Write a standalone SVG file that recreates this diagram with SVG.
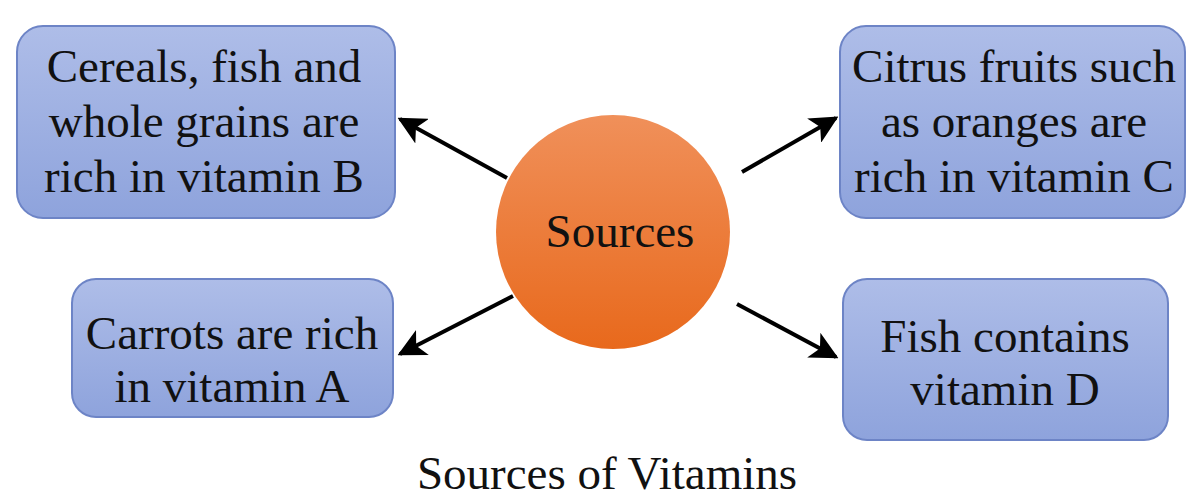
<svg xmlns="http://www.w3.org/2000/svg" width="1200" height="502" viewBox="0 0 1200 502">
<defs>
<linearGradient id="bg" x1="0" y1="0" x2="0" y2="1"><stop offset="0" stop-color="#AEBDE8"/><stop offset="1" stop-color="#8EA3DC"/></linearGradient>
<linearGradient id="og" x1="0" y1="0" x2="0" y2="1"><stop offset="0" stop-color="#F0905A"/><stop offset="1" stop-color="#E8691C"/></linearGradient>
<marker id="ah" viewBox="0 0 10 10" refX="9" refY="5" markerWidth="7" markerHeight="7" orient="auto"><path d="M0,0 L10,5 L0,10 L2.5,5 z" fill="#000"/></marker>
</defs>
<style>
.box{fill:url(#bg);stroke:#6D84C6;stroke-width:2}
text{font-family:"Liberation Serif","DejaVu Serif",serif;font-size:47px;fill:#111;text-anchor:middle}
.c line{stroke:#000;stroke-width:4;marker-end:url(#ah)}
</style>
<rect width="1200" height="502" fill="#fff"/>
<g class="c">
<line x1="507" y1="178" x2="400" y2="119"/>
<line x1="742" y1="172" x2="836" y2="118"/>
<line x1="513" y1="296" x2="400" y2="354"/>
<line x1="737" y1="304" x2="836" y2="357"/>
</g>
<g id="sources"><circle cx="613" cy="232" r="117" fill="url(#og)"/><text x="620" y="247">Sources</text></g>
<g id="vitB"><rect class="box" x="17" y="26" width="378" height="192" rx="26"/><text x="204" y="82">Cereals, fish and</text><text x="204" y="137">whole grains are</text><text x="204" y="192">rich in vitamin B</text></g>
<g id="vitC"><rect class="box" x="840" y="26" width="345" height="192" rx="26"/><text x="1014" y="82">Citrus fruits such</text><text x="1014" y="137">as oranges are</text><text x="1014" y="192">rich in vitamin C</text></g>
<g id="vitA"><rect class="box" x="72" y="279" width="321" height="138" rx="24"/><text x="232" y="349">Carrots are rich</text><text x="232" y="402">in vitamin A</text></g>
<g id="vitD"><rect class="box" x="843" y="279" width="325" height="161" rx="24"/><text x="1005" y="352">Fish contains</text><text x="1005" y="405">vitamin D</text></g>
<text x="607" y="489">Sources of Vitamins</text>
</svg>
